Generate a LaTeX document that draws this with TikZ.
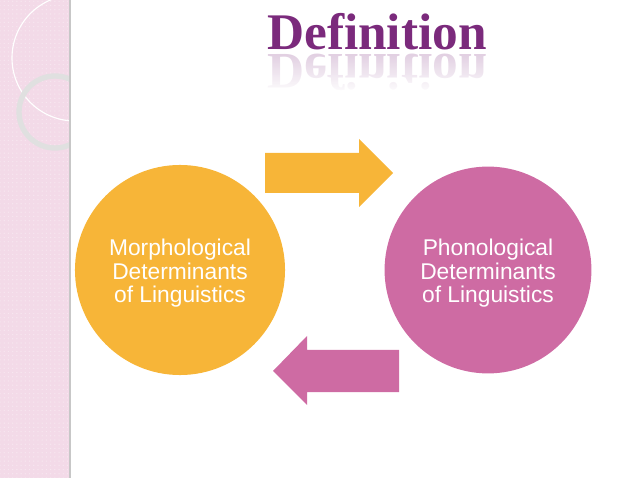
\documentclass[tikz,border=0pt]{standalone}
\usepackage{fontspec}
\setsansfont{Liberation Sans}
\newfontfamily\titlefont{Liberation Serif}
\usepackage{tikz}
\usetikzlibrary{patterns}
\usetikzlibrary{fadings}

\definecolor{sidepink}{HTML}{F3DAE8}
\definecolor{morphcol}{HTML}{F7B538}
\definecolor{phoncol}{HTML}{CE6BA3}
\definecolor{titlecol}{HTML}{7B2A7C}

\tikzfading[name=fadedown, top color=transparent!100, bottom color=transparent!0]

\tikzset{
	bubble/.style={circle, inner sep=0pt},
	bubbletext/.style={inner sep=0pt, text=white, align=center,
		font=\sffamily\fontsize{16.2}{17}\selectfont},
	titletext/.style={anchor=base, text=titlecol, inner sep=0pt,
		font=\titlefont\bfseries\fontsize{36.5}{40}\selectfont}
}

\begin{document}
\begin{tikzpicture}[x=0.025cm, y=-0.025cm]
		\useasboundingbox (0,0) rectangle (638,478);
		% side bar
		\fill[sidepink] (0,0) rectangle (70,478);
		\fill[pattern=dots, pattern color=white, opacity=0.35] (0,0) rectangle (70,478);
		\begin{scope}
				\clip (0,0) rectangle (70,478);
				\draw[white, line width=0.8pt] (75,58) circle (63);
				\draw[black!12, line width=3.8pt] (55,112) circle (36);
		\end{scope}
		\draw[black!22, line width=0.8pt] (70,0) -- (70,478);

		% title and its reflection
		\node[titletext] (def) at (377,50) {Definition};
		\node[titletext, text opacity=0.22] (defmirror) at (377,55) {\scalebox{1}[-1]{Definition}};
		\fill[white, path fading=fadedown] (255,55) rectangle (505,94);

		% the two circles
		\foreach \n/\x/\d/\c/\w in{
				morph/180/5.25cm/morphcol/Morphological,
				phon/488/5.17cm/phoncol/Phonological
		}{
		\node[bubble, fill=\c, minimum size=\d,
				label={[bubbletext, yshift=-0.08cm]center:\w\\Determinants\\of Linguistics}](\n) at (\x,270) {};
		}

		% block arrows
		\fill[morphcol] (265,153) -- (359,153) -- (359,139) -- (393,173) -- (359,207) -- (359,193) -- (265,193) -- cycle;
		\fill[phoncol] (399,350) -- (307,350) -- (307,336) -- (273,371) -- (307,405) -- (307,392) -- (399,392) -- cycle;
\end{tikzpicture}
\end{document}
